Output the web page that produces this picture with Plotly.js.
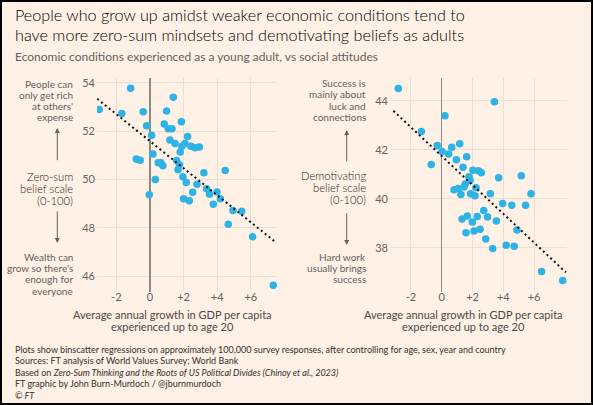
<!DOCTYPE html>
<html>
<head>
<meta charset="utf-8">
<script src="https://cdn.plot.ly/plotly-3.0.1.min.js"></script>
<style>
  html, body { margin: 0; padding: 0; background: #FFF1E5; }
  #chart { width: 593px; height: 405px; }
</style>
</head>
<body>
<div id="chart"></div>
<script>
// ---------- DATA ----------
// Left panel: zero-sum belief scale vs avg annual GDP-per-capita growth up to age 20
const zeroSumX = [-3.02,-1.15,-1.67,-0.40,-0.20,0.10,1.39,0.99,0.85,1.09,1.31,1.87,1.19,1.49,2.24,2.08,1.90,2.44,2.68,2.94,1.80,0.18,-0.81,-0.58,0.49,0.65,0.77,1.59,1.67,1.75,1.96,3.21,4.48,0.32,2.16,2.80,-0.04,2.00,2.34,2.54,3.37,3.55,3.99,3.77,4.19,4.94,5.46,4.66,6.11,7.34];
const zeroSumY = [52.90,53.78,52.73,52.80,52.23,51.83,53.40,52.84,52.30,52.10,52.10,52.39,51.64,51.49,51.78,51.49,51.38,51.38,51.32,51.35,51.14,51.06,50.85,50.80,50.70,50.70,50.57,50.79,50.41,50.61,50.12,50.28,50.37,50.00,49.88,49.81,49.37,49.21,49.12,49.48,49.62,49.39,49.49,48.98,49.21,48.72,48.69,48.15,47.63,45.63];
const zeroSumFitX = [-3.14, 7.50];
const zeroSumFitY = [53.34, 47.40];

// Right panel: demotivating belief scale
const demotX = [-2.82,3.42,0.21,-1.32,-0.29,1.17,0.65,0.02,0.45,1.62,0.95,-0.68,1.38,2.03,2.38,2.57,1.77,3.70,5.17,1.84,1.53,0.80,1.08,1.45,2.23,1.25,1.88,2.16,3.16,5.80,3.96,4.55,5.45,2.73,1.66,2.31,2.98,1.32,1.99,3.55,4.89,1.58,2.10,2.49,2.86,3.31,4.19,4.71,6.49,7.86];
const demotY = [44.50,43.96,43.39,42.75,42.18,42.25,42.10,41.93,41.83,41.72,41.60,41.40,41.29,41.17,41.15,41.06,40.90,40.86,40.94,40.76,40.61,40.37,40.42,40.48,40.45,40.18,40.21,40.13,40.21,40.21,39.81,39.74,39.74,39.52,39.30,39.28,39.26,39.18,39.06,39.10,38.73,38.62,38.69,38.76,38.36,37.97,38.11,38.07,37.04,36.67];
const demotFitX = [-3.14, 8.07];
const demotFitY = [43.59, 37.00];

// Tick labels
const xTickVals = [-2, 0, 2, 4, 6];
const xTickText = ['-2', '0', '+2', '+4', '+6'];
const zeroSumTicks = [46, 48, 50, 52, 54];
const demotTicks = [38, 40, 42, 44];

// Texts
const titleLines = ['People who grow up amidst weaker economic conditions tend to',
                    'have more zero-sum mindsets and demotivating beliefs as adults'];
const subtitle = 'Economic conditions experienced as a young adult, vs social attitudes';
const leftTop = ['People can', 'only get rich', "at others'", 'expense'];
const leftMid = ['Zero-sum', 'belief scale', '(0-100)'];
const leftBottom = ['Wealth can', "grow so there's", 'enough for', 'everyone'];
const rightTop = ['Success is', 'mainly about', 'luck and', 'connections'];
const rightMid = ['Demotivating', 'belief scale', '(0-100)'];
const rightBottom = ['Hard work', 'usually brings', 'success'];
const xTitleLines = ['Average annual growth in GDP per capita', 'experienced up to age 20'];
const footerLines = [
  'Plots show binscatter regressions on approximately 100,000 survey responses, after controlling for age, sex, year and country',
  'Sources: FT analysis of World Values Survey; World Bank',
  'Based on <i>Zero-Sum Thinking and the Roots of US Political Divides (Chinoy et al., 2023)</i>',
  'FT graphic by John Burn-Murdoch / @jburnmurdoch',
  '<i>© FT</i>'
];

// ---------- LAYOUT HELPERS ----------
const W = 593, H = 405;
const FONT = 'Lato, "Noto Sans", sans-serif';
const px = x => x / W;
const py = y => 1 - y / H;
const GREY = '#66605C';
const DARK = '#33302E';
const annotations = [];
function addLine(text, x, y, opts) {
  annotations.push(Object.assign({
    text: text, xref: 'paper', yref: 'paper', x: px(x), y: py(y),
    xanchor: 'left', yanchor: 'middle', showarrow: false,
    font: {family: FONT, size: 10, color: GREY}
  }, opts));
}
function addBlock(lines, x, y0, step, opts) {
  lines.forEach((t, i) => addLine(t, x, y0 + i * step, opts));
}
function addArrow(x, yTail, yHead) {
  annotations.push({
    text: '', xref: 'paper', yref: 'paper', x: px(x), y: py(yHead),
    ax: 0, ay: yTail - yHead, axref: 'pixel', ayref: 'pixel',
    showarrow: true, arrowhead: 2, arrowsize: 1, arrowwidth: 1, arrowcolor: GREY
  });
}

// Title & subtitle
addBlock(titleLines, 13, 15, 20, {font: {family: FONT, size: 16.2, color: '#000', weight: 300}});
addLine(subtitle, 13, 57, {font: {family: FONT, size: 12, color: GREY}});

// Side labels
const sideR = {xanchor: 'right', align: 'right'};
const midFont = {family: FONT, size: 11.2, color: '#262220', weight: 300};
addBlock(leftTop, 75, 84, 10.9, Object.assign({font: {family: FONT, size: 10, color: GREY}}, sideR));
addBlock(leftMid, 75, 176.5, 12, Object.assign({font: midFont}, sideR));
addBlock(leftBottom, 75, 256.7, 11.3, Object.assign({font: {family: FONT, size: 10, color: GREY}}, sideR));
addBlock(rightTop, 368.3, 83.3, 11.1, Object.assign({font: {family: FONT, size: 10, color: GREY}}, sideR));
addBlock(rightMid, 368.3, 175.7, 12.1, Object.assign({font: midFont}, sideR));
addBlock(rightBottom, 368.3, 256.7, 11.3, Object.assign({font: {family: FONT, size: 10, color: GREY}}, sideR));
addArrow(57.3, 161.7, 128);
addArrow(57.3, 210, 243);
addArrow(346.7, 163, 130);
addArrow(346.7, 211.7, 245);

// X-axis titles
const xt = {xanchor: 'center', font: {family: FONT, size: 11, color: '#4D4845'}};
addBlock(xTitleLines, 172.5, 314, 12, xt);
addBlock(xTitleLines, 463, 314, 12, xt);

// Footer
addBlock(footerLines, 13, 349, 11.6, {font: {family: FONT, size: 9, color: DARK}});

// ---------- TRACES ----------
const markerStyle = {color: '#2DB3E6', size: 7.5, line: {width: 0}};
const fitStyle = {color: '#111', width: 2, dash: '2px,3px'};
const traces = [
  {x: zeroSumX, y: zeroSumY, type: 'scatter', mode: 'markers', marker: markerStyle, xaxis: 'x', yaxis: 'y', hoverinfo: 'skip'},
  {x: zeroSumFitX, y: zeroSumFitY, type: 'scatter', mode: 'lines', line: fitStyle, xaxis: 'x', yaxis: 'y', hoverinfo: 'skip'},
  {x: demotX, y: demotY, type: 'scatter', mode: 'markers', marker: markerStyle, xaxis: 'x2', yaxis: 'y2', hoverinfo: 'skip'},
  {x: demotFitX, y: demotFitY, type: 'scatter', mode: 'lines', line: fitStyle, xaxis: 'x2', yaxis: 'y2', hoverinfo: 'skip'}
];

const gridColor = '#EADFD3';
const tickFont = {family: FONT, size: 11, color: GREY};
function xAxis(domain, range, anchor) {
  return {
    domain: domain, range: range, anchor: anchor,
    tickmode: 'array', tickvals: xTickVals, ticktext: xTickText,
    showgrid: true, gridcolor: gridColor, gridwidth: 1,
    zeroline: true, zerolinecolor: '#8F8983', zerolinewidth: 1.5,
    showline: false, ticks: '', tickfont: tickFont, ticklabelstandoff: -3, fixedrange: true
  };
}
function yAxis(domain, range, anchor, ticks) {
  return {
    domain: domain, range: range, anchor: anchor,
    tickmode: 'array', tickvals: ticks,
    showgrid: true, gridcolor: gridColor, gridwidth: 1,
    zeroline: false, showline: false, ticks: '', tickfont: tickFont,
    ticklabelstandoff: 1, fixedrange: true
  };
}
const yDom = [py(292), py(78)];
const layout = {
  width: W, height: H,
  margin: {l: 0, r: 0, t: 0, b: 0},
  paper_bgcolor: '#FFF1E5', plot_bgcolor: '#FFF1E5',
  showlegend: false,
  xaxis: xAxis([px(97), px(277)], [-3.15, 7.56], 'y'),
  yaxis: yAxis(yDom, [45.35, 54.2], 'x', zeroSumTicks),
  xaxis2: xAxis([px(390), px(567)], [-3.36, 8.14], 'y2'),
  yaxis2: yAxis(yDom, [36.2, 44.93], 'x2', demotTicks),
  annotations: annotations,
  shapes: [{type: 'rect', xref: 'paper', yref: 'paper', x0: px(1), x1: px(592), y0: py(404), y1: py(1),
            line: {color: '#000', width: 2}, fillcolor: 'rgba(0,0,0,0)'}]
};

Plotly.newPlot('chart', traces, layout, {displayModeBar: false, staticPlot: true});
</script>
</body>
</html>
